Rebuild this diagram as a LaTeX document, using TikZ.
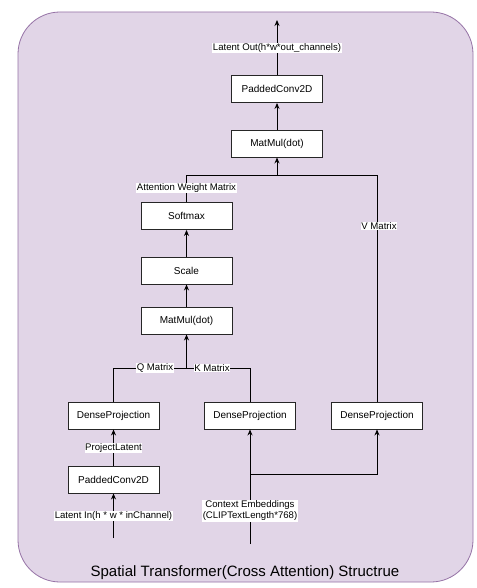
\documentclass[tikz,border=0pt]{standalone}
\usepackage{fontspec}
\setmainfont{Liberation Sans}
\usetikzlibrary{arrows.meta}
\definecolor{bgpurple}{HTML}{E1D5E7}
\definecolor{bdpurple}{HTML}{9673A6}
\begin{document}
\begin{tikzpicture}[x=1pt,y=-1pt,
  box/.style={draw=black!85,line width=0.9pt,fill=white,minimum width=91pt,minimum height=27pt,inner sep=0pt,font=\fontsize{10}{12}\selectfont},
  lbl/.style={fill=white,inner sep=0.6pt,font=\fontsize{9.6}{11}\selectfont},
  conn/.style={line width=0.9pt,draw=black},
  arr/.style={conn,-{Stealth[length=6pt,width=5pt]}}]
\useasboundingbox (0,0) rectangle (476,588);
\fill[white] (0,0) rectangle (476,588);
\draw[fill=bgpurple,draw=bdpurple,line width=0.8pt,rounded corners=42pt] (18,12) rectangle (473,582);
% nodes
\node[box] (pc) at (277,89) {PaddedConv2D};
\node[box] (mm1) at (277,143.5) {MatMul(dot)};
\node[box] (sm) at (186.5,216) {Softmax};
\node[box] (sc) at (186.5,270.5) {Scale};
\node[box] (mm2) at (186.5,320.5) {MatMul(dot)};
\node[box] (dpL) at (113.5,415.5) {DenseProjection};
\node[box] (dpM) at (250,415.5) {DenseProjection};
\node[box] (dpR) at (377,415.5) {DenseProjection};
\node[box] (pcL) at (113.5,479.5) {PaddedConv2D};
% coordinates
\coordinate (outTop) at (277,20);
\coordinate (j1) at (277,175);
\coordinate (j2) at (186.5,368);
\coordinate (inL) at (113.5,538);
\coordinate (ctx) at (250,544);
\coordinate (br) at (250,474);
% connectors
\draw[arr] (pc.north) -- (outTop);
\draw[arr] (mm1.north) -- (pc.south);
\draw[conn] (sm.north) -- (sm.north|-j1) -- (dpR.north|-j1) -- (dpR.north);
\draw[arr] (j1) -- (mm1.south);
\draw[arr] (sc.north) -- (sm.south);
\draw[arr] (mm2.north) -- (sc.south);
\draw[conn] (dpL.north) -- (dpL.north|-j2) -- (dpM.north|-j2) -- (dpM.north);
\draw[arr] (j2) -- (mm2.south);
\draw[arr] (pcL.north) -- (dpL.south);
\draw[arr] (inL) -- (pcL.south);
\draw[arr] (ctx) -- (dpM.south);
\draw[arr] (br) -| (dpR.south);
% labels
\node[lbl] (lOut) at (277,48) {Latent Out(h*w*out\_channels)};
\node[lbl] (lAtt) at (186.5,188) {Attention Weight Matrix};
\node[lbl] (lV) at (379,226) {V Matrix};
\node[lbl] (lQ) at (155,368) {Q Matrix};
\node[lbl] (lK) at (212,368) {K Matrix};
\node[lbl] (lPL) at (113.5,448) {ProjectLatent};
\node[lbl] (lIn) at (113.5,516) {Latent In(h * w * inChannel)};
\node[lbl,align=center] (lCtx) at (250,511) {Context Embeddings\\(CLIPTextLength*768)};
\node[font=\fontsize{15}{17}\selectfont] (title) at (245,573) {Spatial Transformer(Cross Attention) Structrue};
\end{tikzpicture}
\end{document}
